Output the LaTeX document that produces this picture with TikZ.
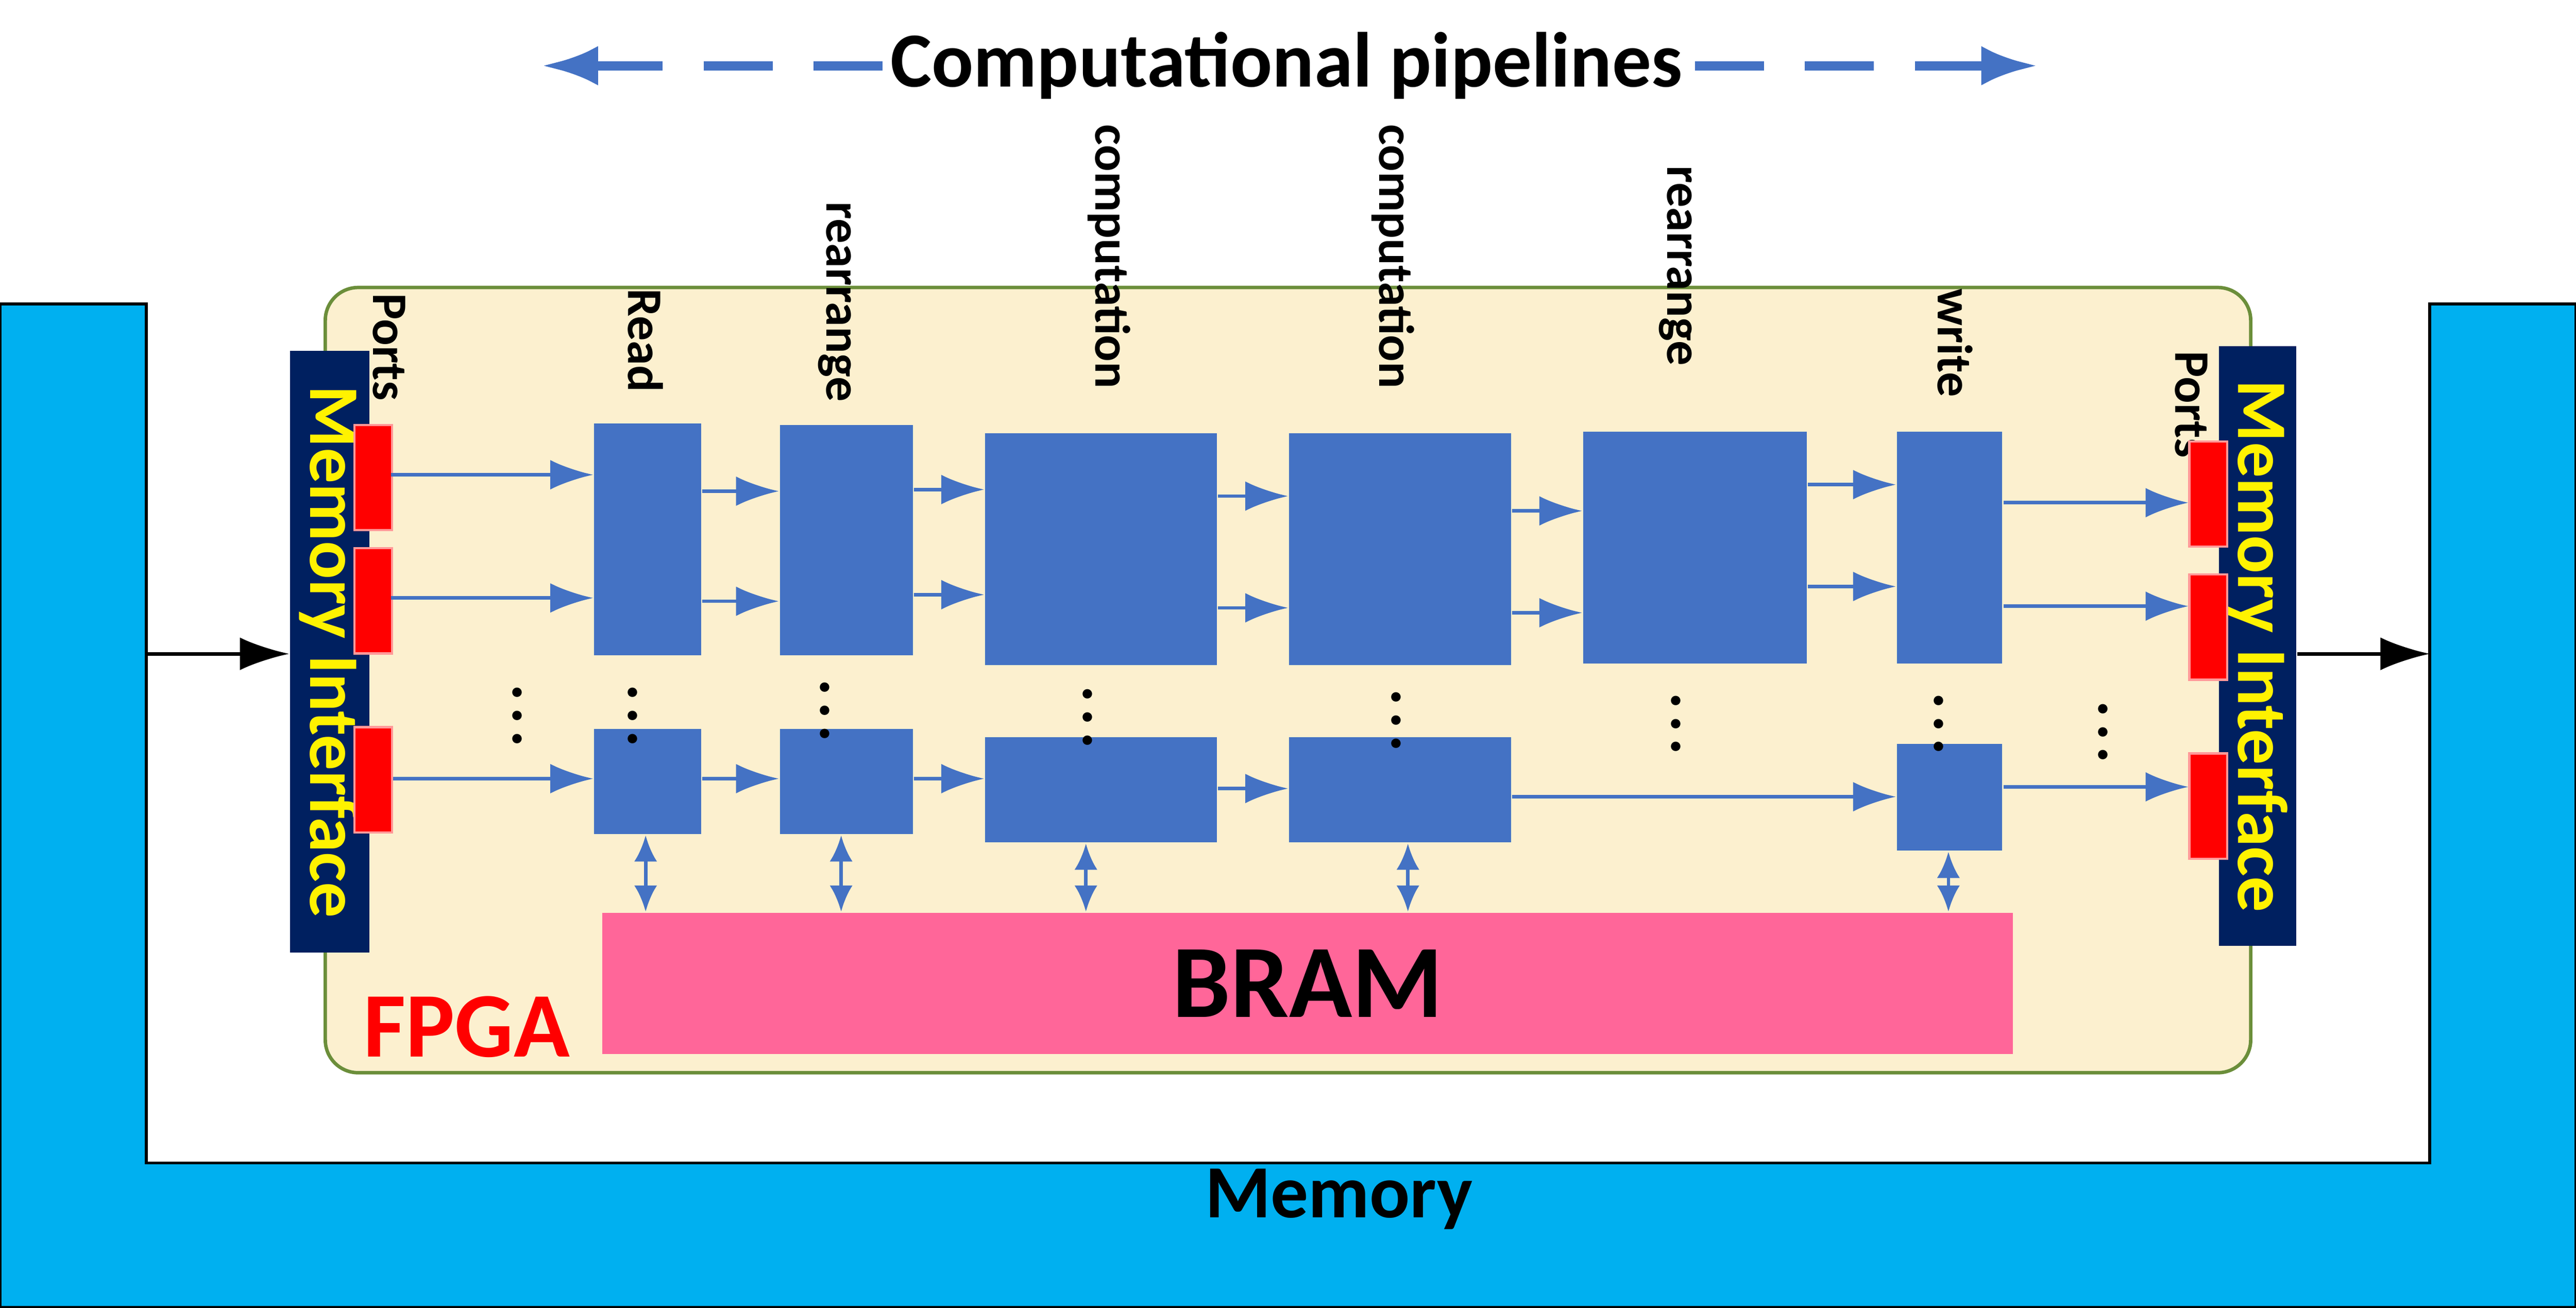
\documentclass[tikz,border=0pt]{standalone}
\usepackage{fontspec}
\setmainfont{Carlito}
\usetikzlibrary{arrows.meta}
\definecolor{memblue}{HTML}{00B0F0}
\definecolor{fpgabg}{HTML}{FCF0CF}
\definecolor{fpgaline}{HTML}{6B8E3A}
\definecolor{navy}{HTML}{002060}
\definecolor{blk}{HTML}{4472C4}
\definecolor{brampink}{HTML}{FF6699}
\tikzstyle{blkbox} = [draw=none, fill=blk, anchor=north west, inner sep=0pt]
\tikzstyle{port} = [draw=white!60!red, fill=red, anchor=north west, inner sep=0pt, minimum width=0.23cm, minimum height=0.64cm]
\tikzstyle{flow} = [-{Latex[length=2.6mm,width=1.8mm]}, draw=blk, line width=0.6pt]
\tikzstyle{bram} = [{Latex[length=1.6mm,width=1.4mm]}-{Latex[length=1.6mm,width=1.4mm]}, draw=blk, line width=0.6pt]
\tikzstyle{stage} = [rotate=-90, anchor=west, font=\fontsize{8.6}{10}\selectfont\bfseries, inner sep=0pt]
\tikzstyle{mif} = [rotate=-90, text=yellow, font=\fontsize{12.3}{14}\selectfont\bfseries]
\tikzstyle{vdots} = [font=\fontsize{11}{11}\selectfont\bfseries, inner sep=0pt]
\begin{document}
\begin{tikzpicture}[x=0.01cm, y=-0.01cm]
\useasboundingbox (0,0) rectangle (1568,796);

% memory
\draw[fill=memblue, line width=0.5pt] (0,185) -- (89,185) -- (89,708) -- (1479,708) -- (1479,185) -- (1568,185) -- (1568,796) -- (0,796) -- cycle;
\node[font=\fontsize{13}{16}\selectfont\bfseries] (mem) at (815,730) {Memory};

% fpga
\draw[fill=fpgabg, draw=fpgaline, rounded corners=0.2cm, line width=0.6pt] (198,175) rectangle (1370,653);
\node[font=\fontsize{16}{19}\selectfont\bfseries, text=red] (fpga) at (284,625) {FPGA};

% memory interfaces
\node[fill=navy, anchor=north west, inner sep=0pt, minimum width=0.48cm, minimum height=3.66cm] (miL) at (176,213) {};
\node[mif] at (miL.center) {Memory Interface};
\node[fill=navy, anchor=north west, inner sep=0pt, minimum width=0.47cm, minimum height=3.65cm] (miR) at (1350,210) {};
\node[mif] at (miR.center) {Memory Interface};
\node[stage] (portsL) at (237,178) {Ports};
\node[stage] (portsR) at (1334,213) {Ports};

\node[port] (pL1) at (215,258) {};
\node[port] (pL2) at (215,333) {};
\node[port] (pL3) at (215,442) {};
\node[port] (pR1) at (1332,268) {};
\node[port] (pR2) at (1332,349) {};
\node[port] (pR3) at (1332,458) {};

\draw[-{Latex[length=3mm,width=2mm]}, line width=0.6pt] (89,398) -- (miL.west |- 0,398);
\draw[-{Latex[length=3mm,width=2mm]}, line width=0.6pt] (miR.east |- 0,398) -- (1479,398);

% stages
\node[blkbox, minimum width=0.65cm, minimum height=1.41cm] (rdT) at (361,257) {};
\node[blkbox, minimum width=0.65cm, minimum height=0.64cm] (rdB) at (361,443) {};
\node[blkbox, minimum width=0.81cm, minimum height=1.40cm] (raT) at (474,258) {};
\node[blkbox, minimum width=0.81cm, minimum height=0.64cm] (raB) at (474,443) {};
\node[blkbox, minimum width=1.41cm, minimum height=1.41cm] (caT) at (599,263) {};
\node[blkbox, minimum width=1.41cm, minimum height=0.64cm] (caB) at (599,448) {};
\node[blkbox, minimum width=1.35cm, minimum height=1.41cm] (cbT) at (784,263) {};
\node[blkbox, minimum width=1.35cm, minimum height=0.64cm] (cbB) at (784,448) {};
\node[blkbox, minimum width=1.36cm, minimum height=1.41cm] (rbT) at (963,262) {};
\node[blkbox, minimum width=0.64cm, minimum height=1.41cm] (wrT) at (1154,262) {};
\node[blkbox, minimum width=0.64cm, minimum height=0.65cm] (wrB) at (1154,452) {};

\node[stage] (lRead) at (393,175) {Read};
\node[stage] (lRa) at (508,122) {rearrange};
\node[stage] (lCa) at (675,75) {computation};
\node[stage] (lCb) at (848,75) {computation};
\node[stage] (lRb) at (1020,100) {rearrange};
\node[stage] (lWr) at (1190,175) {write};

% bram
\node[fill=brampink, anchor=north west, inner sep=0pt, minimum width=8.58cm, minimum height=0.86cm, font=\fontsize{18}{22}\selectfont\bfseries] (bram) at (366,555) {BRAM};

% flows
\foreach \y in {289,364} \draw[flow] (238,\y) -- (rdT.west |- 0,\y);
\draw[flow] (pL3.east |- 0,474) -- (rdB.west |- 0,474);
\foreach \y in {299,366} \draw[flow] (rdT.east |- 0,\y) -- (raT.west |- 0,\y);
\draw[flow] (rdB.east |- 0,474) -- (raB.west |- 0,474);
\foreach \y in {298,362} \draw[flow] (raT.east |- 0,\y) -- (caT.west |- 0,\y);
\draw[flow] (raB.east |- 0,474) -- (caB.west |- 0,474);
\foreach \y in {302,370} \draw[flow] (caT.east |- 0,\y) -- (cbT.west |- 0,\y);
\draw[flow] (caB.east |- 0,480) -- (cbB.west |- 0,480);
\foreach \y in {311,373} \draw[flow] (cbT.east |- 0,\y) -- (rbT.west |- 0,\y);
\draw[flow] (cbB.east |- 0,485) -- (wrB.west |- 0,485);
\foreach \y in {295,357} \draw[flow] (rbT.east |- 0,\y) -- (wrT.west |- 0,\y);
\draw[flow] (wrT.east |- 0,306) -- (pR1.west |- 0,306);
\draw[flow] (wrT.east |- 0,369) -- (pR2.west |- 0,369);
\draw[flow] (wrB.east |- 0,479) -- (pR3.west |- 0,479);

% bram links
\draw[bram] (393,0 |- rdB.south) -- (393,0 |- bram.north);
\draw[bram] (512,0 |- raB.south) -- (512,0 |- bram.north);
\draw[bram] (661,0 |- caB.south) -- (661,0 |- bram.north);
\draw[bram] (857,0 |- cbB.south) -- (857,0 |- bram.north);
\draw[bram] (1186,0 |- wrB.south) -- (1186,0 |- bram.north);

% dots
\foreach \x/\y in {315/425,385/425,502/422,662/426,850/428,1020/430,1180/430,1280/435}
  \node[vdots] at (\x,\y) {$\vdots$};

% pipelines
\draw[{Latex[length=3.4mm,width=2.4mm]}-{Latex[length=3.4mm,width=2.4mm]}, draw=blk, line width=1.6pt, dash pattern=on 0.42cm off 0.25cm] (330,40) -- (1240,40);
\node[fill=white, inner sep=1pt, font=\fontsize{13.5}{16}\selectfont\bfseries] (pipe) at (783,40) {Computational pipelines};
\end{tikzpicture}
\end{document}
